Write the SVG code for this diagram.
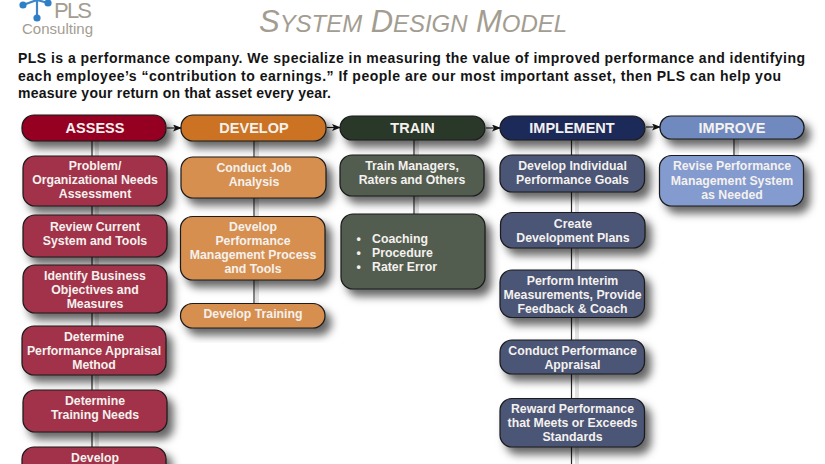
<svg xmlns="http://www.w3.org/2000/svg" width="825" height="464" viewBox="0 0 825 464">
<style>
text{font-family:"Liberation Sans",Arial,sans-serif}
.body{font-size:14px;font-weight:700;fill:#141414}
.title{font-size:31px;font-style:italic;fill:#a39d91}
.title tspan{font-size:24px}
.logo{fill:#a39d91}
.h,.t{font-weight:700;fill:#f4f1ee;text-anchor:middle}
.h{font-size:14.5px}
.t{font-size:12.3px}
.l{text-anchor:start}
.box{stroke:#1a1a1a;stroke-width:1.2;filter:url(#sh)}
.as{fill:#950020}.de{fill:#cb7324}.tr{fill:#293829}.im{fill:#1f2c5a}.ip{fill:#6f8abf}
.as2{fill:#a2304a}.de2{fill:#d68f50}.tr2{fill:#525d50}.im2{fill:#4b5475}.ip2{fill:#849bcf}
.v{stroke:#2a2a2a;stroke-width:1.2;fill:none}
.vg{stroke:#5c5c5c;stroke-width:1.5;fill:none}
.vs{stroke:#e2e2e2;stroke-width:4;fill:none}
.a{stroke:#111;stroke-width:1.1;fill:none;marker-end:url(#ar)}
.ln{stroke:#3c85c8;stroke-width:2.2;fill:none}
.ball{fill:#2f7fc6}
</style>
<defs>
<filter id="sh" x="-15%" y="-30%" width="140%" height="190%">
<feDropShadow dx="6" dy="7" stdDeviation="4" flood-color="#000" flood-opacity="0.6"/>
</filter>
<marker id="ar" markerWidth="9" markerHeight="7" refX="8" refY="3.5" orient="auto" markerUnits="userSpaceOnUse">
<path d="M0 0L9 3.5L0 7L2 3.5Z" fill="#111"/>
</marker>
</defs>

<g id="logo">
<path class="ln" d="M37 0V18M37 0L23 5M37 0L48 3"/>
<circle class="ball" cx="37" cy="18" r="3.6"/>
<circle class="ball" cx="23" cy="5" r="3.6"/>
<circle class="ball" cx="48" cy="3" r="3.6"/>
<text class="logo" x="54" y="18" font-size="22" textLength="38">PLS</text>
<text class="logo" x="22" y="33.500" font-size="15" textLength="71">Consulting</text>
</g>

<text class="title" x="259" y="32" textLength="308">S<tspan>YSTEM</tspan> D<tspan>ESIGN</tspan> M<tspan>ODEL</tspan></text>

<g id="intro">
<text class="body" x="18" y="63" textLength="787">PLS is a performance company. We specialize in measuring the value of improved performance and identifying</text>
<text class="body" x="18" y="81" textLength="763">each employee’s “contribution to earnings.” If people are our most important asset, then PLS can help you</text>
<text class="body" x="18" y="98" textLength="313">measure your return on that asset every year.</text>
</g>

<g id="connectors">
<path class="vs" d="M97 141V464M257 141V303M417 140V214M577 140V464M737 139V155"/>
<path class="v" d="M92 141V464M414 140V214M571.500 140V464M734 139V155"/>
<path class="vg" d="M254 141V303"/>
<path class="a" d="M167 128H181"/>
<path class="a" d="M327 127.500H340"/>
<path class="a" d="M486 128H500"/>
<path class="a" d="M646 127H660"/>
</g>

<g id="assess-head"><rect class="box as" x="22" y="115" width="144" height="26" rx="12"/><text class="h" x="95" y="133">ASSESS</text></g>
<g id="develop-head"><rect class="box de" x="181" y="115" width="145" height="26" rx="12"/><text class="h" x="254" y="133">DEVELOP</text></g>
<g id="train-head"><rect class="box tr" x="340" y="116" width="145" height="24" rx="12"/><text class="h" x="412.500" y="133">TRAIN</text></g>
<g id="implement-head"><rect class="box im" x="500" y="116" width="145" height="24" rx="12"/><text class="h" x="572" y="133">IMPLEMENT</text></g>
<g id="improve-head"><rect class="box ip" x="660" y="116" width="144" height="23" rx="11"/><text class="h" x="732" y="133">IMPROVE</text></g>

<g id="assess-1"><rect class="box as2" x="23" y="156" width="144" height="50" rx="12"/><text class="t" x="95" y="170">Problem/</text><text class="t" x="95" y="184">Organizational Needs</text><text class="t" x="95" y="198">Assessment</text></g>
<g id="assess-2"><rect class="box as2" x="23" y="215" width="144" height="42" rx="12"/><text class="t" x="95" y="230.500">Review Current</text><text class="t" x="95" y="245">System and Tools</text></g>
<g id="assess-3"><rect class="box as2" x="23" y="265" width="144" height="48" rx="12"/><text class="t" x="95" y="280">Identify Business</text><text class="t" x="95" y="294">Objectives and</text><text class="t" x="95" y="308">Measures</text></g>
<g id="assess-4"><rect class="box as2" x="22" y="326" width="144" height="49" rx="12"/><text class="t" x="94" y="341">Determine</text><text class="t" x="94" y="355">Performance Appraisal</text><text class="t" x="94" y="369">Method</text></g>
<g id="assess-5"><rect class="box as2" x="23" y="390" width="144" height="42" rx="12"/><text class="t" x="95" y="405">Determine</text><text class="t" x="95" y="419">Training Needs</text></g>
<g id="assess-6"><rect class="box as2" x="22" y="447" width="144" height="40" rx="12"/><text class="t" x="95" y="462">Develop</text></g>

<g id="develop-1"><rect class="box de2" x="181" y="157" width="145" height="41" rx="12"/><text class="t" x="254" y="172">Conduct Job</text><text class="t" x="254" y="186">Analysis</text></g>
<g id="develop-2"><rect class="box de2" x="180.500" y="216.500" width="144.500" height="63.500" rx="12"/><text class="t" x="253" y="231">Develop</text><text class="t" x="253" y="245">Performance</text><text class="t" x="253" y="259">Management Process</text><text class="t" x="253" y="273">and Tools</text></g>
<g id="develop-3"><rect class="box de2" x="180.500" y="303.500" width="144.500" height="24.500" rx="12"/><text class="t" x="253" y="318">Develop Training</text></g>

<g id="train-1"><rect class="box tr2" x="340" y="155" width="144" height="41" rx="12"/><text class="t" x="412" y="170">Train Managers,</text><text class="t" x="412" y="184">Raters and Others</text></g>
<g id="train-2"><rect class="box tr2" x="341" y="214" width="144" height="75" rx="12"/>
<text class="t l" x="356.500" y="243">•</text><text class="t l" x="372" y="243">Coaching</text>
<text class="t l" x="356.500" y="257">•</text><text class="t l" x="372" y="257">Procedure</text>
<text class="t l" x="356.500" y="271">•</text><text class="t l" x="372" y="271">Rater Error</text></g>

<g id="implement-1"><rect class="box im2" x="500" y="155" width="144.500" height="37" rx="12"/><text class="t" x="572.500" y="170">Develop Individual</text><text class="t" x="572.500" y="184">Performance Goals</text></g>
<g id="implement-2"><rect class="box im2" x="500.500" y="212.500" width="144.500" height="35.500" rx="12"/><text class="t" x="573" y="228">Create</text><text class="t" x="573" y="242">Development Plans</text></g>
<g id="implement-3"><rect class="box im2" x="500" y="270" width="144.500" height="47.500" rx="12"/><text class="t" x="572.500" y="285">Perform Interim</text><text class="t" x="572.500" y="299">Measurements, Provide</text><text class="t" x="572.500" y="313">Feedback &amp; Coach</text></g>
<g id="implement-4"><rect class="box im2" x="500" y="340" width="144.500" height="34" rx="12"/><text class="t" x="572.500" y="354.500">Conduct Performance</text><text class="t" x="572.500" y="369">Appraisal</text></g>
<g id="implement-5"><rect class="box im2" x="500" y="398.500" width="144.500" height="48.500" rx="12"/><text class="t" x="572.500" y="413">Reward Performance</text><text class="t" x="572.500" y="427">that Meets or Exceeds</text><text class="t" x="572.500" y="441">Standards</text></g>

<g id="improve-1"><rect class="box ip2" x="659.500" y="155.500" width="144" height="50.500" rx="12"/><text class="t" x="732" y="170">Revise Performance</text><text class="t" x="732" y="184.500">Management System</text><text class="t" x="732" y="198.500">as Needed</text></g>
</svg>
